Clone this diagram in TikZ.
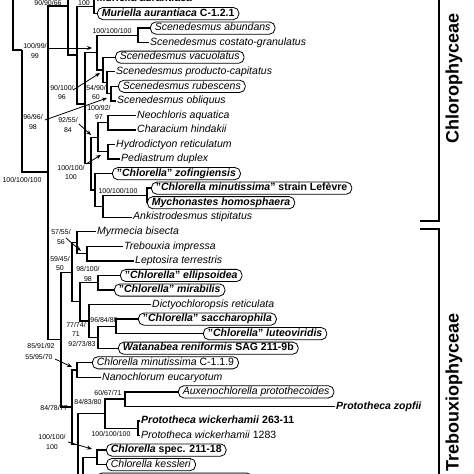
\documentclass[tikz,border=0pt]{standalone}
\usepackage{fontspec}
\setmainfont{Liberation Sans}
\usetikzlibrary{arrows.meta}
\begin{document}
\begin{tikzpicture}[x=1pt,y=-1pt,
  br/.style={line width=1.35pt},
  lf/.style={anchor=west, inner xsep=1pt, inner ysep=0pt, text height=7.6pt, text depth=2.2pt, font=\fontsize{10.5}{12}\selectfont},
  bx/.style={lf, draw, line width=0.8pt, rounded corners=5.5pt, inner xsep=4.5pt, inner ysep=1.2pt},
  sv/.style={inner sep=0pt, font=\fontsize{7}{9.5}\selectfont, align=center},
  ptr/.style={-{Stealth[length=5pt,width=4pt]}, line width=0.8pt},
  clade/.style={rotate=90, anchor=east, inner sep=0pt, font=\fontsize{18}{20}\selectfont\bfseries},
  bracket/.style={line width=2.8pt},
]
\useasboundingbox (0,0) rectangle (474,474);
% ---------- leaves ----------
\node[lf] (L1) at (96,-1) {\textbf{\textit{Muriella aurantiaca}}};
\node[bx] (L2) at (97,13.55) {\textbf{\textit{Muriella aurantiaca} C-1.2.1}};
\node[bx] (L3) at (150,28.1) {\textit{Scenedesmus abundans}};
\node[lf] (L4) at (149,42.65) {\textit{Scenedesmus costato-granulatus}};
\node[bx] (L5) at (115,57.2) {\textit{Scenedesmus vacuolatus}};
\node[lf] (L6) at (115,71.75) {\textit{Scenedesmus producto-capitatus}};
\node[bx] (L7) at (118,86.3) {\textit{Scenedesmus rubescens}};
\node[lf] (L8) at (116,100.85) {\textit{Scenedesmus obliquus}};
\node[lf] (L9) at (136,115.4) {\textit{Neochloris aquatica}};
\node[lf] (L10) at (136,129.95) {\textit{Characium hindakii}};
\node[lf] (L11) at (115,144.5) {\textit{Hydrodictyon reticulatum}};
\node[lf] (L12) at (120,159.05) {\textit{Pediastrum duplex}};
\node[bx] (L13) at (112,173.6) {\textbf{"\textit{Chlorella}" \textit{zofingiensis}}};
\node[bx] (L14) at (151,188.15) {\textbf{"\textit{Chlorella minutissima}" strain Lefèvre}};
\node[bx] (L15) at (147,202.7) {\textbf{\textit{Mychonastes homosphaera}}};
\node[lf] (L16) at (132,217.25) {\textit{Ankistrodesmus stipitatus}};
\node[lf] (L17) at (96,231.8) {\textit{Myrmecia bisecta}};
\node[lf] (L18) at (123,246.35) {\textit{Trebouxia impressa}};
\node[lf] (L19) at (134,260.9) {\textit{Leptosira terrestris}};
\node[bx] (L20) at (120,275.45) {\textbf{"\textit{Chlorella}" \textit{ellipsoidea}}};
\node[bx] (L21) at (114,290) {\textbf{"\textit{Chlorella}" \textit{mirabilis}}};
\node[lf] (L22) at (151,304.55) {\textit{Dictyochloropsis reticulata}};
\node[bx] (L23) at (138,319.1) {\textbf{"\textit{Chlorella}" \textit{saccharophila}}};
\node[bx] (L24) at (203,333.65) {\textbf{"\textit{Chlorella}" \textit{luteoviridis}}};
\node[bx] (L25) at (118,348.2) {\textbf{\textit{Watanabea reniformis} SAG 211-9b}};
\node[bx] (L26) at (92,362.75) {\textit{Chlorella minutissima} C-1.1.9};
\node[lf] (L27) at (101,377.3) {\textit{Nanochlorum eucaryotum}};
\node[bx] (L28) at (178,391.85) {\textit{Auxenochlorella protothecoides}};
\node[lf] (L29) at (335,406.4) {\textbf{\textit{Prototheca zopfii}}};
\node[lf] (L30) at (140,420.95) {\textbf{\textit{Prototheca wickerhamii} 263-11}};
\node[lf] (L31) at (140,435.5) {\textit{Prototheca wickerhamii} 1283};
\node[bx] (L32) at (106,450.05) {\textbf{\textit{Chlorella} spec. 211-18}};
\node[bx] (L33) at (106,464.6) {\textit{Chlorella kessleri}};
\node[bx, fill=gray!55, minimum width=156pt] (L34) at (96,479.15) {};
% ---------- internal nodes ----------
\coordinate (top13) at (13,-12);
\coordinate (n22a) at (22,50);
\coordinate (n48) at (48,172);
\coordinate (n68) at (68,6);
\coordinate (top68) at (68,-12);
\coordinate (n77) at (77,55);
\coordinate (M) at (94,6.3);
\coordinate (C5) at (85,104);
\coordinate (S5) at (97,52.7);
\coordinate (S1) at (138,35.4);
\coordinate (S4) at (103,70);
\coordinate (S3) at (107,82.7);
\coordinate (S2) at (111,93.6);
\coordinate (C4) at (91,163.6);
\coordinate (N3) at (98,137.2);
\coordinate (N1) at (108,122.7);
\coordinate (N2) at (108,151.8);
\coordinate (C3) at (95,190);
\coordinate (C2) at (103,206.3);
\coordinate (C1) at (147,195.4);
\coordinate (n61) at (61,339.7);
\coordinate (T3) at (72,272.3);
\coordinate (T2) at (77,242.7);
\coordinate (T1) at (87,253.6);
\coordinate (T5) at (80,301.8);
\coordinate (E) at (98,282.7);
\coordinate (D) at (89,320.9);
\coordinate (W2) at (98,337.3);
\coordinate (W1) at (116,326.4);
\coordinate (T10) at (72,407);
\coordinate (T7) at (77,370);
\coordinate (T11) at (78,444.3);
\coordinate (P) at (105,413.7);
\coordinate (A) at (125,399.1);
\coordinate (PW) at (138,428.2);
\coordinate (T12) at (83,475);
\coordinate (K) at (97,457.3);
% ---------- branches ----------
\draw[br] (top13) |- (n22a);
\draw[br] (n22a) |- (n48);
\draw[br] (n48) |- (n68);
\draw[br] (n48) |- (n61);
\draw[br] (n68) -- (top68);
\draw[br] (n68) |- (n77);
\draw[br] (n77) |- (M);
\draw[br] (n77) |- (C5);
\draw[br] (M) |- (L1.west);
\draw[br] (M) |- (L2.west);
\draw[br] (C5) |- (S5);
\draw[br] (C5) |- (C4);
\draw[br] (S5) |- (S1);
\draw[br] (S5) |- (S4);
\draw[br] (S1) |- (L3.west);
\draw[br] (S1) |- (L4.west);
\draw[br] (S4) |- (L5.west);
\draw[br] (S4) |- (S3);
\draw[br] (S3) |- (L6.west);
\draw[br] (S3) |- (S2);
\draw[br] (S2) |- (L7.west);
\draw[br] (S2) |- (L8.west);
\draw[br] (C4) |- (N3);
\draw[br] (C4) |- (C3);
\draw[br] (N3) |- (N1);
\draw[br] (N3) |- (N2);
\draw[br] (N1) |- (L9.west);
\draw[br] (N1) |- (L10.west);
\draw[br] (N2) |- (L11.west);
\draw[br] (N2) |- (L12.west);
\draw[br] (C3) |- (L13.west);
\draw[br] (C3) |- (C2);
\draw[br] (C2) |- (C1);
\draw[br] (C2) |- (L16.west);
\draw[br] (C1) |- (L14.west);
\draw[br] (C1) |- (L15.west);
\draw[br] (n61) |- (T3);
\draw[br] (n61) |- (T10);
\draw[br] (T3) |- (T2);
\draw[br] (T3) |- (T5);
\draw[br] (T2) |- (L17.west);
\draw[br] (T2) |- (T1);
\draw[br] (T1) |- (L18.west);
\draw[br] (T1) |- (L19.west);
\draw[br] (T5) |- (E);
\draw[br] (T5) |- (D);
\draw[br] (E) |- (L20.west);
\draw[br] (E) |- (L21.west);
\draw[br] (D) |- (L22.west);
\draw[br] (D) |- (W2);
\draw[br] (W2) |- (W1);
\draw[br] (W2) |- (L25.west);
\draw[br] (W1) |- (L23.west);
\draw[br] (W1) |- (L24.west);
\draw[br] (T10) |- (T7);
\draw[br] (T10) |- (T11);
\draw[br] (T7) |- (L26.west);
\draw[br] (T7) |- (L27.west);
\draw[br] (T11) |- (P);
\draw[br] (T11) |- (T12);
\draw[br] (P) |- (A);
\draw[br] (P) |- (PW);
\draw[br] (A) |- (L28.west);
\draw[br] (A) |- (L29.west);
\draw[br] (PW) |- (L30.west);
\draw[br] (PW) |- (L31.west);
\draw[br] (T12) |- (K);
\draw[br] (T12) |- (L34.west);
\draw[br] (K) |- (L32.west);
\draw[br] (K) |- (L33.west);
% ---------- support values ----------
\node[sv] (s1) at (48,3.2) {90/90/66};
\node[sv] (s2) at (84,3) {100};
\node[sv] (s3) at (112,31) {100/100/100};
\node[sv] (s4) at (35,51) {100/99/\\99};
\node[sv] (s5) at (62,92.5) {90/100/\\96};
\node[sv] (s6) at (96,92.5) {54/90/\\60};
\node[sv] (s7) at (33,122) {96/96/\\98};
\node[sv] (s8) at (99,112.5) {100/92/\\97};
\node[sv] (s9) at (68,125) {92/55/\\84};
\node[sv] (s10) at (71,172.5) {100/100/\\100};
\node[sv] (s11) at (22,180) {100/100/100};
\node[sv] (s12) at (118,191) {100/100/100};
\node[sv] (s13) at (61,237) {57/55/\\56};
\node[sv] (s14) at (60,263.5) {59/45/\\50};
\node[sv] (s15) at (88,274) {98/100/\\98};
\node[sv] (s16) at (76,329.5) {77/74/\\71};
\node[sv] (s17) at (104,320) {96/84/88};
\node[sv] (s18) at (82,344) {92/73/83};
\node[sv] (s19) at (41,346) {85/91/92};
\node[sv] (s20) at (39,357) {55/95/70};
\node[sv] (s21) at (108,393) {60/67/71};
\node[sv] (s22) at (54,408) {84/78/77};
\node[sv] (s23) at (88,402) {84/83/80};
\node[sv] (s24) at (111,434) {100/100/100};
\node[sv] (s25) at (52,442) {100/100/\\100};
% ---------- pointer arrows ----------
\coordinate (a4s) at (48,48);   \coordinate (a4e) at (92,48);
\coordinate (a5s) at (73,90);   \coordinate (a5e) at (100,73);
\coordinate (a7s) at (45,120);  \coordinate (a7e) at (107,98);
\coordinate (a9s) at (79,124);  \coordinate (a9e) at (91,135);
\coordinate (a10s) at (86,164); \coordinate (a10e) at (101,155);
\coordinate (a13s) at (66,238); \coordinate (a13e) at (81,251);
\coordinate (a20s) at (55,359); \coordinate (a20e) at (72,367);
\coordinate (a25s) at (68,442); \coordinate (a25e) at (92,449);
\draw[ptr] (a4s) -- (a4e);
\draw[ptr] (a5s) -- (a5e);
\draw[ptr] (a7s) -- (a7e);
\draw[ptr] (a9s) -- (a9e);
\draw[ptr] (a10s) -- (a10e);
\draw[ptr] (a13s) -- (a13e);
\draw[ptr] (a20s) -- (a20e);
\draw[ptr] (a25s) -- (a25e);
% ---------- clade brackets ----------
\coordinate (bA) at (439,-5);
\coordinate (bB) at (439,221);
\coordinate (bC) at (420,221);
\coordinate (bD) at (420,229);
\coordinate (bE) at (439,229);
\coordinate (bF) at (439,480);
\draw[bracket] (bA) -- (bB) -- (bC);
\draw[bracket] (bD) -- (bE) -- (bF);
\node[clade] (chl) at (454,13) {Chlorophyceae};
\node[clade] (tre) at (454,313) {Trebouxiophyceae};
\end{tikzpicture}
\end{document}
